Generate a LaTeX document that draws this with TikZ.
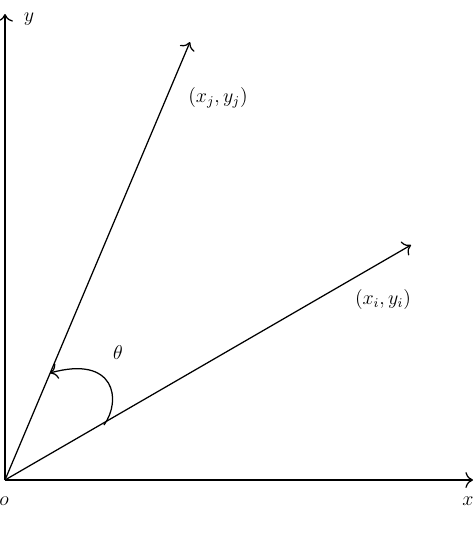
\documentclass[tikz,border=0pt]{standalone}
\usetikzlibrary{arrows.meta}
\begin{document}
\begin{tikzpicture}[x=0.6pt,y=-0.6pt,line width=0.75pt,>={To[scale=1.4]}]
  \tikzstyle{lbl}=[inner sep=0pt,font=\fontsize{12}{14}\selectfont]
  \useasboundingbox (0,0) rectangle (474,538);
  \coordinate (o) at (5,480);
  \coordinate (xend) at (473,480);
  \coordinate (yend) at (5,14);
  \coordinate (vj) at (190,42);
  \coordinate (vi) at (411,245);
  \draw[->] (o) -- (xend);
  \draw[->] (o) -- (yend);
  \draw[->] (o) -- (vj);
  \draw[->] (o) -- (vi);
  \coordinate (arcstart) at (104,425);
  \coordinate (arcend) at (50,373);
  \draw[->] (arcstart) .. controls (122,400) and (115,355) .. (arcend);
  \node[lbl] (ylabel) at (29,19) {$y$};
  \node[lbl] (xlabel) at (468,501) {$x$};
  \node[lbl] (olabel) at (4,501) {$o$};
  \node[lbl] (jlabel) at (218,98) {$(x_j, y_j)$};
  \node[lbl] (ilabel) at (383,299) {$(x_i, y_i)$};
  \node[lbl] (thetalabel) at (118,353) {$\theta$};
\end{tikzpicture}
\end{document}
